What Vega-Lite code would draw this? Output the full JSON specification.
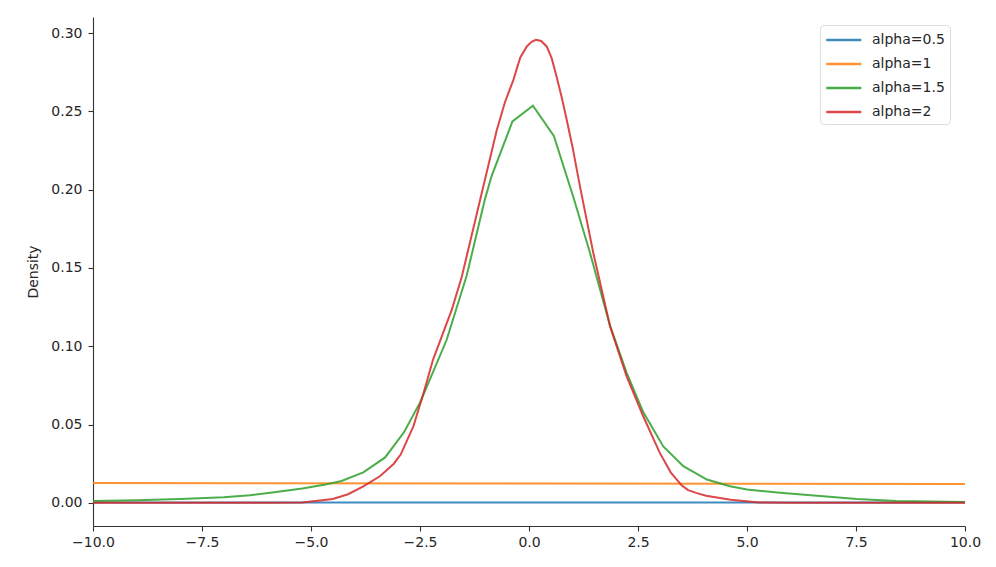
{
  "$schema": "https://vega.github.io/schema/vega-lite/v6.json",
  "width": 872,
  "height": 509,
  "autosize": "none",
  "padding": {"left": 93, "top": 17, "right": 31, "bottom": 41},
  "background": "white",
  "config": {
    "view": {"stroke": null},
    "font": "DejaVu Sans",
    "axis": {
      "grid": false,
      "domainColor": "#333333",
      "domainWidth": 1.1,
      "tickColor": "#333333",
      "tickWidth": 1.1,
      "tickSize": 5,
      "labelFont": "DejaVu Sans",
      "labelFontSize": 14,
      "labelColor": "#262626",
      "titleFont": "DejaVu Sans",
      "titleFontSize": 14,
      "titleFontWeight": "normal",
      "titleColor": "#262626"
    }
  },
  "data": {
    "values": [
      {"series": "alpha=0.5", "x": -10, "y": 0.0003},
      {"series": "alpha=0.5", "x": 0, "y": 0.0003},
      {"series": "alpha=0.5", "x": 10, "y": 0.0003},

      {"series": "alpha=1", "x": -10, "y": 0.0127},
      {"series": "alpha=1", "x": 0, "y": 0.0124},
      {"series": "alpha=1", "x": 10, "y": 0.0121},

      {"series": "alpha=1.5", "x": -10, "y": 0.0012},
      {"series": "alpha=1.5", "x": -9, "y": 0.0017},
      {"series": "alpha=1.5", "x": -8, "y": 0.0025},
      {"series": "alpha=1.5", "x": -7, "y": 0.0036},
      {"series": "alpha=1.5", "x": -6.4, "y": 0.0048},
      {"series": "alpha=1.5", "x": -5.8, "y": 0.0070},
      {"series": "alpha=1.5", "x": -5.2, "y": 0.0092},
      {"series": "alpha=1.5", "x": -4.7, "y": 0.0115},
      {"series": "alpha=1.5", "x": -4.3, "y": 0.0140},
      {"series": "alpha=1.5", "x": -3.8, "y": 0.0195},
      {"series": "alpha=1.5", "x": -3.3, "y": 0.0290},
      {"series": "alpha=1.5", "x": -2.87, "y": 0.045},
      {"series": "alpha=1.5", "x": -2.5, "y": 0.064},
      {"series": "alpha=1.5", "x": -2.27, "y": 0.079},
      {"series": "alpha=1.5", "x": -1.89, "y": 0.104},
      {"series": "alpha=1.5", "x": -1.43, "y": 0.145},
      {"series": "alpha=1.5", "x": -1.01, "y": 0.194},
      {"series": "alpha=1.5", "x": -0.86, "y": 0.2085},
      {"series": "alpha=1.5", "x": -0.38, "y": 0.2436},
      {"series": "alpha=1.5", "x": 0.09, "y": 0.2536},
      {"series": "alpha=1.5", "x": 0.57, "y": 0.2344},
      {"series": "alpha=1.5", "x": 1.02, "y": 0.195},
      {"series": "alpha=1.5", "x": 1.40, "y": 0.1596},
      {"series": "alpha=1.5", "x": 1.86, "y": 0.113},
      {"series": "alpha=1.5", "x": 2.24, "y": 0.083},
      {"series": "alpha=1.5", "x": 2.62, "y": 0.058},
      {"series": "alpha=1.5", "x": 3.08, "y": 0.036},
      {"series": "alpha=1.5", "x": 3.54, "y": 0.0234},
      {"series": "alpha=1.5", "x": 4.08, "y": 0.0149},
      {"series": "alpha=1.5", "x": 4.61, "y": 0.0106},
      {"series": "alpha=1.5", "x": 5.0, "y": 0.0085},
      {"series": "alpha=1.5", "x": 5.76, "y": 0.0064},
      {"series": "alpha=1.5", "x": 6.75, "y": 0.0042},
      {"series": "alpha=1.5", "x": 7.52, "y": 0.0025},
      {"series": "alpha=1.5", "x": 8.43, "y": 0.0012},
      {"series": "alpha=1.5", "x": 10, "y": 0.0006},

      {"series": "alpha=2", "x": -10, "y": 0.0},
      {"series": "alpha=2", "x": -6, "y": 0.0},
      {"series": "alpha=2", "x": -5.2, "y": 0.0002},
      {"series": "alpha=2", "x": -4.5, "y": 0.0025},
      {"series": "alpha=2", "x": -4.15, "y": 0.0055},
      {"series": "alpha=2", "x": -3.8, "y": 0.0105},
      {"series": "alpha=2", "x": -3.42, "y": 0.017},
      {"series": "alpha=2", "x": -3.1, "y": 0.025},
      {"series": "alpha=2", "x": -2.94, "y": 0.031},
      {"series": "alpha=2", "x": -2.65, "y": 0.049},
      {"series": "alpha=2", "x": -2.42, "y": 0.070},
      {"series": "alpha=2", "x": -2.20, "y": 0.0915},
      {"series": "alpha=2", "x": -1.97, "y": 0.1085},
      {"series": "alpha=2", "x": -1.77, "y": 0.1234},
      {"series": "alpha=2", "x": -1.54, "y": 0.1446},
      {"series": "alpha=2", "x": -1.16, "y": 0.189},
      {"series": "alpha=2", "x": -0.74, "y": 0.238},
      {"series": "alpha=2", "x": -0.55, "y": 0.256},
      {"series": "alpha=2", "x": -0.36, "y": 0.270},
      {"series": "alpha=2", "x": -0.2, "y": 0.2845},
      {"series": "alpha=2", "x": -0.05, "y": 0.2915},
      {"series": "alpha=2", "x": 0.06, "y": 0.2945},
      {"series": "alpha=2", "x": 0.16, "y": 0.2957},
      {"series": "alpha=2", "x": 0.28, "y": 0.2950},
      {"series": "alpha=2", "x": 0.405, "y": 0.2915},
      {"series": "alpha=2", "x": 0.52, "y": 0.284},
      {"series": "alpha=2", "x": 0.635, "y": 0.272},
      {"series": "alpha=2", "x": 0.75, "y": 0.259},
      {"series": "alpha=2", "x": 0.865, "y": 0.2447},
      {"series": "alpha=2", "x": 1.0, "y": 0.227},
      {"series": "alpha=2", "x": 1.17, "y": 0.202},
      {"series": "alpha=2", "x": 1.475, "y": 0.1596},
      {"series": "alpha=2", "x": 1.86, "y": 0.1127},
      {"series": "alpha=2", "x": 2.24, "y": 0.0808},
      {"series": "alpha=2", "x": 2.62, "y": 0.0553},
      {"series": "alpha=2", "x": 3.0, "y": 0.0319},
      {"series": "alpha=2", "x": 3.25, "y": 0.0195},
      {"series": "alpha=2", "x": 3.39, "y": 0.0149},
      {"series": "alpha=2", "x": 3.5, "y": 0.0112},
      {"series": "alpha=2", "x": 3.65, "y": 0.0081},
      {"series": "alpha=2", "x": 3.85, "y": 0.0062},
      {"series": "alpha=2", "x": 4.06, "y": 0.0045},
      {"series": "alpha=2", "x": 4.63, "y": 0.0020},
      {"series": "alpha=2", "x": 5.27, "y": 0.0003},
      {"series": "alpha=2", "x": 6, "y": 0.0},
      {"series": "alpha=2", "x": 10, "y": 0.0}
    ]
  },
  "mark": {"type": "line", "strokeWidth": 2, "opacity": 0.85, "clip": true},
  "encoding": {
    "x": {
      "field": "x",
      "type": "quantitative",
      "scale": {"domain": [-10, 10], "nice": false, "zero": false},
      "axis": {
        "title": null,
        "values": [-10, -7.5, -5, -2.5, 0, 2.5, 5, 7.5, 10],
        "format": ".1f",
        "labelPadding": 4,
        "labelFlush": false,
        "labelOverlap": false
      }
    },
    "y": {
      "field": "y",
      "type": "quantitative",
      "scale": {"domain": [-0.01478, 0.3103], "nice": false, "zero": false},
      "axis": {
        "title": "Density",
        "values": [0, 0.05, 0.1, 0.15, 0.2, 0.25, 0.3],
        "format": ".2f",
        "labelPadding": 6,
        "titlePadding": 10,
        "labelFlush": false,
        "labelOverlap": false
      }
    },
    "color": {
      "field": "series",
      "type": "nominal",
      "scale": {
        "domain": ["alpha=0.5", "alpha=1", "alpha=1.5", "alpha=2"],
        "range": ["#1f77b4", "#ff7f0e", "#2ca02c", "#d62728"]
      },
      "legend": {
        "title": null,
        "orient": "none",
        "legendX": 727,
        "legendY": 8,
        "symbolType": "M-1,0H3",
        "symbolSize": 306,
        "symbolStrokeWidth": 2.5,
        "symbolOpacity": 0.85,
        "labelFont": "DejaVu Sans",
        "labelFontSize": 14,
        "labelColor": "#262626",
        "labelOffset": 27,
        "rowPadding": 7,
        "padding": 5,
        "strokeColor": "#dddddd",
        "fillColor": "white",
        "cornerRadius": 4
      }
    }
  }
}
